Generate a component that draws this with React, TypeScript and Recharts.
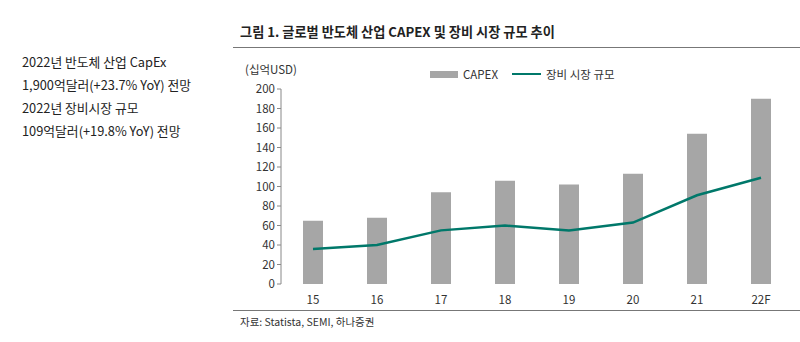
import { ComposedChart, Bar, Line, XAxis, YAxis } from 'recharts';

const years = ['15', '16', '17', '18', '19', '20', '21', '22F'];
const capex = [65, 68, 94, 106, 102, 113, 154, 190];
const equipment = [36, 40, 55, 60, 55, 63, 91, 109];
const yTicks = [0, 20, 40, 60, 80, 100, 120, 140, 160, 180, 200];
const boundaryTicks = [0, 1, 2, 3, 4, 5, 6, 7, 8];
const notes = [
  '2022년 반도체 산업 CapEx',
  '1,900억달러(+23.7% YoY) 전망',
  '2022년 장비시장 규모',
  '109억달러(+19.8% YoY) 전망',
];

const FONT = '"Noto Sans CJK KR", "Noto Sans", sans-serif';
const BAR = '#a6a6a6';
const LINE = '#00786a';

const data = years.map((year, i) => ({ year, capex: capex[i], equipment: equipment[i] }));

function LegendBox() {
  return (
    <div style={{ position: 'absolute', left: 430, top: 66, display: 'flex', alignItems: 'center', fontSize: 11.5, color: '#333', whiteSpace: 'nowrap' }}>
      <span style={{ width: 28, height: 7, background: BAR, marginRight: 5 }} />
      <span style={{ marginRight: 14 }}>CAPEX</span>
      <span style={{ width: 29, height: 2.5, background: LINE, marginRight: 5 }} />
      <span>장비 시장 규모</span>
    </div>
  );
}

export default function App() {
  return (
    <div style={{ position: 'fixed', left: 0, top: 0, width: 800, height: 342, background: '#fff', fontFamily: FONT, color: '#222' }}>
      {notes.map((t, i) => (
        <div key={i} style={{ position: 'absolute', left: 22, top: 52 + i * 23, fontSize: 12.8, whiteSpace: 'nowrap' }}>
          {t}
        </div>
      ))}
      <div style={{ position: 'absolute', left: 240, top: 22, fontSize: 13.2, fontWeight: 700, whiteSpace: 'nowrap' }}>
        그림 1. 글로벌 반도체 산업 CAPEX 및 장비 시장 규모 추이
      </div>
      <div style={{ position: 'absolute', left: 233, top: 47, width: 567, height: 1, background: '#777' }} />
      <div style={{ position: 'absolute', left: 245, top: 61, fontSize: 11.5, color: '#333' }}>(십억USD)</div>
      <LegendBox />
      <div style={{ position: 'absolute', left: 233, top: 310, width: 567, height: 1, background: '#777' }} />
      <div style={{ position: 'absolute', left: 240, top: 314, fontSize: 10.5, color: '#333' }}>자료: Statista, SEMI, 하나증권</div>

      <div style={{ position: 'absolute', left: 0, top: 0 }}>
        <ComposedChart width={800} height={342} data={data} margin={{ top: 89, right: 7, bottom: 28, left: 241 }}>
          <XAxis
            xAxisId="grid"
            type="number"
            domain={[0, 8]}
            ticks={boundaryTicks}
            height={0}
            tickSize={5}
            tickFormatter={() => ''}
            stroke="#888"
          />
          <XAxis
            xAxisId="cat"
            dataKey="year"
            height={30}
            axisLine={false}
            tickLine={false}
            tick={{ fontSize: 11.5, fill: '#333', fontFamily: FONT }}
            tickMargin={6}
          />
          <YAxis
            domain={[0, 200]}
            ticks={yTicks}
            width={40}
            tickSize={4}
            stroke="#888"
            tick={{ fontSize: 11.5, fill: '#333', fontFamily: FONT }}
            interval={0}
          />
          <Bar xAxisId="cat" dataKey="capex" name="CAPEX" fill={BAR} barSize={20} isAnimationActive={false} />
          <Line
            xAxisId="cat"
            dataKey="equipment"
            name="장비 시장 규모"
            type="linear"
            stroke={LINE}
            strokeWidth={2.5}
            dot={false}
            isAnimationActive={false}
          />
        </ComposedChart>
      </div>
    </div>
  );
}
